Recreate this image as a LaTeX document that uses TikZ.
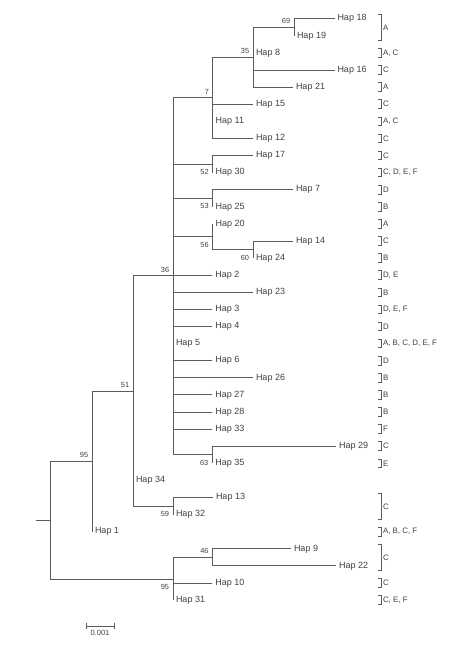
\documentclass[tikz,border=0pt]{standalone}
\usepackage{fontspec}
\setmainfont{Liberation Sans}
\definecolor{lc}{gray}{0.36}
\definecolor{tc}{gray}{0.25}
\newcommand\onebr[3]{%
  \draw[brk] (378,#2-4.3) -- (381.7,#2-4.3) -- (381.7,#2+4.3) -- (378,#2+4.3);
  \node[grp] (#1) at (382.8,#2) {#3};}
\newcommand\twobr[4]{%
  \draw[brk] (378,#2-4) -- (381.7,#2-4) -- (381.7,#3+5) -- (378,#3+5);
  \node[grp] (#1) at (382.8,{(#2+#3)/2+0.5}) {#4};}
\begin{document}
\begin{tikzpicture}[x=1pt,y=-1pt,
  edge/.style={draw=lc, line width=1pt},
  brk/.style={draw=lc, line width=1pt},
  hap/.style={anchor=west, inner xsep=3pt, inner ysep=0pt, outer sep=0pt, text=tc, font=\fontsize{9}{10}\selectfont},
  grp/.style={anchor=west, inner sep=0pt, text=tc, font=\fontsize{7.9}{9}\selectfont},
  bsa/.style={anchor=south east, inner sep=0pt, text=tc, font=\fontsize{7.4}{8}\selectfont},
  bsb/.style={anchor=north east, inner sep=0pt, text=tc, font=\fontsize{7.4}{8}\selectfont}]
\useasboundingbox (0,0) rectangle (474,649);
% internal nodes
\coordinate (r0) at (36,520.1);
\coordinate (root) at (50.7,520.1);
\coordinate (n95a) at (92,461.5);
\coordinate (n51) at (133,391.2);
\coordinate (n36) at (173,275.8);
\coordinate (n59) at (173,506.05);
\coordinate (n7) at (212.7,97.8);
\coordinate (n35) at (253,57.2);
\coordinate (n69) at (294,27.25);
\coordinate (n52) at (212.7,164.05);
\coordinate (n53) at (212.7,198.25);
\coordinate (n56) at (212.7,236.7);
\coordinate (n60) at (253,249.55);
\coordinate (n63) at (212.3,454.75);
\coordinate (n95b) at (173,579);
\coordinate (n46) at (212.3,557.35);
% leaves
\node[hap] (h18) at (334.5,18.7) {Hap 18};
\node[hap] (h19) at (294,35.8) {Hap 19};
\node[hap] (h8) at (253,52.9) {Hap 8};
\node[hap] (h16) at (334.5,70.0) {Hap 16};
\node[hap] (h21) at (293,87.1) {Hap 21};
\node[hap] (h15) at (253,104.2) {Hap 15};
\node[hap] (h11) at (212.7,121.3) {Hap 11};
\node[hap] (h12) at (253,138.4) {Hap 12};
\node[hap] (h17) at (253,155.5) {Hap 17};
\node[hap] (h30) at (212.7,172.6) {Hap 30};
\node[hap] (h7) at (293,189.7) {Hap 7};
\node[hap] (h25) at (212.7,206.8) {Hap 25};
\node[hap] (h20) at (212.7,223.9) {Hap 20};
\node[hap] (h14) at (293,241.0) {Hap 14};
\node[hap] (h24) at (253,258.1) {Hap 24};
\node[hap] (h2) at (212.3,275.2) {Hap 2};
\node[hap] (h23) at (253,292.3) {Hap 23};
\node[hap] (h3) at (212.3,309.4) {Hap 3};
\node[hap] (h4) at (212.3,326.5) {Hap 4};
\node[hap] (h5) at (173,343.6) {Hap 5};
\node[hap] (h6) at (212.3,360.7) {Hap 6};
\node[hap] (h26) at (253,377.8) {Hap 26};
\node[hap] (h27) at (212.3,394.9) {Hap 27};
\node[hap] (h28) at (212.3,412.0) {Hap 28};
\node[hap] (h33) at (212.3,429.1) {Hap 33};
\node[hap] (h29) at (336,446.2) {Hap 29};
\node[hap] (h35) at (212.3,463.3) {Hap 35};
\node[hap] (h34) at (133,480.4) {Hap 34};
\node[hap] (h13) at (213,497.5) {Hap 13};
\node[hap] (h32) at (173,514.6) {Hap 32};
\node[hap] (h1) at (92,531.7) {Hap 1};
\node[hap] (h9) at (291,548.8) {Hap 9};
\node[hap] (h22) at (336,565.9) {Hap 22};
\node[hap] (h10) at (212.3,583.0) {Hap 10};
\node[hap] (h31) at (173,600.1) {Hap 31};
% edges
\draw[edge] (r0) -- (root);
\draw[edge] (root) |- (n95a); \draw[edge] (root) |- (n95b);
\draw[edge] (n95a) |- (n51); \draw[edge] (n95a) |- (h1.west);
\draw[edge] (n51) |- (n36); \draw[edge] (n51) |- (h34.west); \draw[edge] (n51) |- (n59);
\draw[edge] (n59) |- (h13.west); \draw[edge] (n59) |- (h32.west);
\draw[edge] (n36) |- (n7); \draw[edge] (n36) |- (n52); \draw[edge] (n36) |- (n53);
\draw[edge] (n36) |- (n56); \draw[edge] (n36) |- (h2.west); \draw[edge] (n36) |- (h23.west);
\draw[edge] (n36) |- (h3.west); \draw[edge] (n36) |- (h4.west); \draw[edge] (n36) |- (h5.west);
\draw[edge] (n36) |- (h6.west); \draw[edge] (n36) |- (h26.west); \draw[edge] (n36) |- (h27.west);
\draw[edge] (n36) |- (h28.west); \draw[edge] (n36) |- (h33.west); \draw[edge] (n36) |- (n63);
\draw[edge] (n7) |- (n35); \draw[edge] (n7) |- (h15.west); \draw[edge] (n7) |- (h11.west); \draw[edge] (n7) |- (h12.west);
\draw[edge] (n35) |- (n69); \draw[edge] (n35) |- (h8.west); \draw[edge] (n35) |- (h16.west); \draw[edge] (n35) |- (h21.west);
\draw[edge] (n69) |- (h18.west); \draw[edge] (n69) |- (h19.west);
\draw[edge] (n52) |- (h17.west); \draw[edge] (n52) |- (h30.west);
\draw[edge] (n53) |- (h7.west); \draw[edge] (n53) |- (h25.west);
\draw[edge] (n56) |- (h20.west); \draw[edge] (n56) |- (n60);
\draw[edge] (n60) |- (h14.west); \draw[edge] (n60) |- (h24.west);
\draw[edge] (n63) |- (h29.west); \draw[edge] (n63) |- (h35.west);
\draw[edge] (n95b) |- (n46); \draw[edge] (n95b) |- (h10.west); \draw[edge] (n95b) |- (h31.west);
\draw[edge] (n46) |- (h9.west); \draw[edge] (n46) |- (h22.west);
% bootstrap values
\node[bsa] (b69) at ([shift={(-3.6,-3.3)}]n69) {69};
\node[bsa] (b35) at ([shift={(-3.6,-3.3)}]n35) {35};
\node[bsa] (b7) at ([shift={(-3.6,-3.3)}]n7) {7};
\node[bsa] (b36) at ([shift={(-3.6,-3.3)}]n36) {36};
\node[bsa] (b51) at ([shift={(-3.6,-3.3)}]n51) {51};
\node[bsa] (b95a) at ([shift={(-3.6,-3.3)}]n95a) {95};
\node[bsa] (b46) at ([shift={(-3.6,-3.3)}]n46) {46};
\node[bsb] (b52) at ([shift={(-3.8,5.3)}]n52) {52};
\node[bsb] (b53) at ([shift={(-3.8,5.3)}]n53) {53};
\node[bsb] (b56) at ([shift={(-3.8,5.3)}]n56) {56};
\node[bsb] (b60) at ([shift={(-3.8,5.3)}]n60) {60};
\node[bsb] (b63) at ([shift={(-3.8,5.3)}]n63) {63};
\node[bsb] (b59) at ([shift={(-3.8,5.3)}]n59) {59};
\node[bsb] (b95b) at ([shift={(-3.8,5.3)}]n95b) {95};
% groups
\twobr{g1819}{18.7}{35.8}{A}
\onebr{g8}{52.9}{A, C}
\onebr{g16}{70.0}{C}
\onebr{g21}{87.1}{A}
\onebr{g15}{104.2}{C}
\onebr{g11}{121.3}{A, C}
\onebr{g12}{138.4}{C}
\onebr{g17}{155.5}{C}
\onebr{g30}{172.6}{C, D, E, F}
\onebr{g7}{189.7}{D}
\onebr{g25}{206.8}{B}
\onebr{g20}{223.9}{A}
\onebr{g14}{241.0}{C}
\onebr{g24}{258.1}{B}
\onebr{g2}{275.2}{D, E}
\onebr{g23}{292.3}{B}
\onebr{g3}{309.4}{D, E, F}
\onebr{g4}{326.5}{D}
\onebr{g5}{343.6}{A, B, C, D, E, F}
\onebr{g6}{360.7}{D}
\onebr{g26}{377.8}{B}
\onebr{g27}{394.9}{B}
\onebr{g28}{412.0}{B}
\onebr{g33}{429.1}{F}
\onebr{g29}{446.2}{C}
\onebr{g35}{463.3}{E}
\twobr{g1332}{497.5}{514.6}{C}
\onebr{g1}{531.7}{A, B, C, F}
\twobr{g922}{548.8}{565.9}{C}
\onebr{g10}{583.0}{C}
\onebr{g31}{600.1}{C, E, F}
% scale bar
\coordinate (sb1) at (86,626);
\coordinate (sb2) at (114,626);
\draw[edge] (sb1) -- (sb2);
\draw[edge] ([yshift=-3.3pt]sb1) -- ([yshift=3.3pt]sb1);
\draw[edge] ([yshift=-3.3pt]sb2) -- ([yshift=3.3pt]sb2);
\node[anchor=north, inner sep=0pt, text=tc, font=\fontsize{7.5}{8}\selectfont] (sbl) at (100,630) {0.001};
\end{tikzpicture}
\end{document}
